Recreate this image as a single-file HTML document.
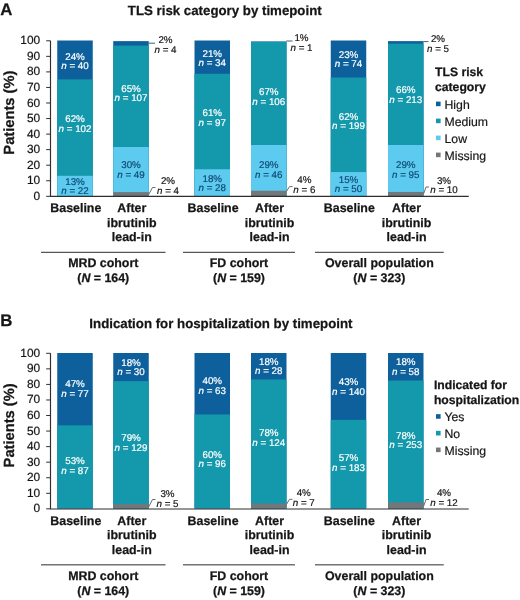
<!DOCTYPE html>
<html><head><meta charset="utf-8"><title>TLS risk category by timepoint</title>
<style>
html,body{margin:0;padding:0;background:#fff}
svg{display:block}
text{font-family:"Liberation Sans",Arial,sans-serif;fill:#161616;text-rendering:geometricPrecision}
.ltr{font-size:16.8px;font-weight:bold}
.ltr,.ttl,.ylab,.xl,.lt{stroke:#161616;stroke-width:0.25px}
.ttl{font-size:13.27px;font-weight:bold}
.ylab{font-size:14.7px;font-weight:bold}
.tick{font-size:11.9px}
.xl{font-size:12.4px;font-weight:bold}
.leg{font-size:12.25px}
.lt{font-size:12.2px;font-weight:bold}
.lab{font-size:9.8px}
.it{font-style:italic}
.tick,.leg,.lab{stroke:#161616;stroke-width:0.2px}
.lw{fill:#fff;stroke:#fff}
.ld{fill:#0f4b73;stroke:#0f4b73}
</style></head><body>
<svg width="520" height="600" viewBox="0 0 520 600">
<rect width="520" height="600" fill="#fff"/>
<text x="0.3" y="15.00" class="ltr">A</text>
<text x="224.75" y="14.50" class="ttl" text-anchor="middle">TLS risk category by timepoint</text>
<text transform="translate(14.2,112.60) rotate(-90)" class="ylab" text-anchor="middle">Patients (%)</text>
<rect x="57.25" y="40.50" width="35.5" height="155.50" fill="#0d609b"/>
<rect x="57.25" y="79.38" width="35.5" height="116.62" fill="#1498ab"/>
<rect x="57.25" y="175.78" width="35.5" height="20.22" fill="#5dcaf0"/>
<text x="75.00" y="184.50" class="lab ld" text-anchor="middle">13%</text>
<text x="75.00" y="194.10" class="lab ld" text-anchor="middle"><tspan class="it">n</tspan> = 22</text>
<text x="75.00" y="122.00" class="lab lw" text-anchor="middle">62%</text>
<text x="75.00" y="131.60" class="lab lw" text-anchor="middle"><tspan class="it">n</tspan> = 102</text>
<text x="75.00" y="59.50" class="lab lw" text-anchor="middle">24%</text>
<text x="75.00" y="69.10" class="lab lw" text-anchor="middle"><tspan class="it">n</tspan> = 40</text>
<rect x="113.25" y="41.12" width="35.5" height="154.88" fill="#0d609b"/>
<rect x="113.25" y="45.63" width="35.5" height="150.37" fill="#1498ab"/>
<rect x="113.25" y="147.02" width="35.5" height="48.98" fill="#5dcaf0"/>
<rect x="113.25" y="192.11" width="35.5" height="3.89" fill="#72777b"/>
<text x="131.00" y="168.30" class="lab ld" text-anchor="middle">30%</text>
<text x="131.00" y="177.90" class="lab ld" text-anchor="middle"><tspan class="it">n</tspan> = 49</text>
<text x="131.00" y="91.75" class="lab lw" text-anchor="middle">65%</text>
<text x="131.00" y="101.35" class="lab lw" text-anchor="middle"><tspan class="it">n</tspan> = 107</text>
<rect x="194.5" y="40.50" width="35.5" height="155.50" fill="#0d609b"/>
<rect x="194.5" y="73.78" width="35.5" height="122.22" fill="#1498ab"/>
<rect x="194.5" y="169.25" width="35.5" height="26.75" fill="#5dcaf0"/>
<text x="212.25" y="181.75" class="lab ld" text-anchor="middle">18%</text>
<text x="212.25" y="191.35" class="lab ld" text-anchor="middle"><tspan class="it">n</tspan> = 28</text>
<text x="212.25" y="116.25" class="lab lw" text-anchor="middle">61%</text>
<text x="212.25" y="125.85" class="lab lw" text-anchor="middle"><tspan class="it">n</tspan> = 97</text>
<text x="212.25" y="56.50" class="lab lw" text-anchor="middle">21%</text>
<text x="212.25" y="66.10" class="lab lw" text-anchor="middle"><tspan class="it">n</tspan> = 34</text>
<rect x="251.0" y="41.43" width="35.5" height="154.57" fill="#0d609b"/>
<rect x="251.0" y="41.90" width="35.5" height="154.10" fill="#1498ab"/>
<rect x="251.0" y="145.00" width="35.5" height="51.00" fill="#5dcaf0"/>
<rect x="251.0" y="190.71" width="35.5" height="5.29" fill="#72777b"/>
<text x="268.75" y="168.00" class="lab ld" text-anchor="middle">29%</text>
<text x="268.75" y="177.60" class="lab ld" text-anchor="middle"><tspan class="it">n</tspan> = 46</text>
<text x="268.75" y="95.00" class="lab lw" text-anchor="middle">67%</text>
<text x="268.75" y="104.60" class="lab lw" text-anchor="middle"><tspan class="it">n</tspan> = 106</text>
<rect x="330.75" y="40.50" width="35.5" height="155.50" fill="#0d609b"/>
<rect x="330.75" y="77.51" width="35.5" height="118.49" fill="#1498ab"/>
<rect x="330.75" y="172.05" width="35.5" height="23.95" fill="#5dcaf0"/>
<text x="348.50" y="182.50" class="lab ld" text-anchor="middle">15%</text>
<text x="348.50" y="192.10" class="lab ld" text-anchor="middle"><tspan class="it">n</tspan> = 50</text>
<text x="348.50" y="119.50" class="lab lw" text-anchor="middle">62%</text>
<text x="348.50" y="129.10" class="lab lw" text-anchor="middle"><tspan class="it">n</tspan> = 199</text>
<text x="348.50" y="57.50" class="lab lw" text-anchor="middle">23%</text>
<text x="348.50" y="67.10" class="lab lw" text-anchor="middle"><tspan class="it">n</tspan> = 74</text>
<rect x="388.0" y="41.12" width="35.5" height="154.88" fill="#0d609b"/>
<rect x="388.0" y="43.61" width="35.5" height="152.39" fill="#1498ab"/>
<rect x="388.0" y="145.00" width="35.5" height="51.00" fill="#5dcaf0"/>
<rect x="388.0" y="191.96" width="35.5" height="4.04" fill="#72777b"/>
<text x="405.75" y="168.00" class="lab ld" text-anchor="middle">29%</text>
<text x="405.75" y="177.60" class="lab ld" text-anchor="middle"><tspan class="it">n</tspan> = 95</text>
<text x="405.75" y="93.25" class="lab lw" text-anchor="middle">66%</text>
<text x="405.75" y="102.85" class="lab lw" text-anchor="middle"><tspan class="it">n</tspan> = 213</text>
<path d="M50.5 40.80V196.40H468.75" fill="none" stroke="#2e2e2e" stroke-width="1.15"/>
<path d="M46.2 196.30H50.5" stroke="#2e2e2e" stroke-width="1"/>
<text x="40.2" y="199.80" class="tick" text-anchor="end">0</text>
<path d="M46.2 180.75H50.5" stroke="#2e2e2e" stroke-width="1"/>
<text x="40.2" y="184.25" class="tick" text-anchor="end">10</text>
<path d="M46.2 165.20H50.5" stroke="#2e2e2e" stroke-width="1"/>
<text x="40.2" y="168.70" class="tick" text-anchor="end">20</text>
<path d="M46.2 149.65H50.5" stroke="#2e2e2e" stroke-width="1"/>
<text x="40.2" y="153.15" class="tick" text-anchor="end">30</text>
<path d="M46.2 134.10H50.5" stroke="#2e2e2e" stroke-width="1"/>
<text x="40.2" y="137.60" class="tick" text-anchor="end">40</text>
<path d="M46.2 118.55H50.5" stroke="#2e2e2e" stroke-width="1"/>
<text x="40.2" y="122.05" class="tick" text-anchor="end">50</text>
<path d="M46.2 103.00H50.5" stroke="#2e2e2e" stroke-width="1"/>
<text x="40.2" y="106.50" class="tick" text-anchor="end">60</text>
<path d="M46.2 87.45H50.5" stroke="#2e2e2e" stroke-width="1"/>
<text x="40.2" y="90.95" class="tick" text-anchor="end">70</text>
<path d="M46.2 71.90H50.5" stroke="#2e2e2e" stroke-width="1"/>
<text x="40.2" y="75.40" class="tick" text-anchor="end">80</text>
<path d="M46.2 56.35H50.5" stroke="#2e2e2e" stroke-width="1"/>
<text x="40.2" y="59.85" class="tick" text-anchor="end">90</text>
<path d="M46.2 40.80H50.5" stroke="#2e2e2e" stroke-width="1"/>
<text x="40.2" y="44.30" class="tick" text-anchor="end">100</text>
<text x="75.80" y="212.10" class="xl" text-anchor="middle">Baseline</text>
<text x="131.80" y="212.10" class="xl" text-anchor="middle">After</text>
<text x="131.80" y="226.70" class="xl" text-anchor="middle">ibrutinib</text>
<text x="131.80" y="241.30" class="xl" text-anchor="middle">lead-in</text>
<text x="213.05" y="212.10" class="xl" text-anchor="middle">Baseline</text>
<text x="269.55" y="212.10" class="xl" text-anchor="middle">After</text>
<text x="269.55" y="226.70" class="xl" text-anchor="middle">ibrutinib</text>
<text x="269.55" y="241.30" class="xl" text-anchor="middle">lead-in</text>
<text x="349.30" y="212.10" class="xl" text-anchor="middle">Baseline</text>
<text x="406.55" y="212.10" class="xl" text-anchor="middle">After</text>
<text x="406.55" y="226.70" class="xl" text-anchor="middle">ibrutinib</text>
<text x="406.55" y="241.30" class="xl" text-anchor="middle">lead-in</text>
<path d="M41 252.30H165.5" stroke="#2e2e2e" stroke-width="1"/>
<text x="103.25" y="267.40" class="xl" text-anchor="middle">MRD cohort</text>
<text x="103.25" y="282.10" class="xl" text-anchor="middle">(<tspan class="it">N</tspan> = 164)</text>
<path d="M183 252.30H295" stroke="#2e2e2e" stroke-width="1"/>
<text x="239.00" y="267.40" class="xl" text-anchor="middle">FD cohort</text>
<text x="239.00" y="282.10" class="xl" text-anchor="middle">(<tspan class="it">N</tspan> = 159)</text>
<path d="M315 252.30H443.75" stroke="#2e2e2e" stroke-width="1"/>
<text x="379.38" y="267.40" class="xl" text-anchor="middle">Overall population</text>
<text x="379.38" y="282.10" class="xl" text-anchor="middle">(<tspan class="it">N</tspan> = 323)</text>
<path d="M148.7 43.2H155" fill="none" stroke="#3d5f7d" stroke-width="1"/>
<text x="165.5" y="43.2" class="lab" text-anchor="middle">2%</text>
<text x="165.5" y="52.7" class="lab" text-anchor="middle"><tspan class="it">n</tspan> = 4</text>
<path d="M286.3 41H292.5" fill="none" stroke="#3d5f7d" stroke-width="1"/>
<text x="301.5" y="40.8" class="lab" text-anchor="middle">1%</text>
<text x="301.5" y="50.7" class="lab" text-anchor="middle"><tspan class="it">n</tspan> = 1</text>
<path d="M423.3 41.6H428.5" fill="none" stroke="#3d5f7d" stroke-width="1"/>
<text x="438" y="42.1" class="lab" text-anchor="middle">2%</text>
<text x="438" y="51.6" class="lab" text-anchor="middle"><tspan class="it">n</tspan> = 5</text>
<path d="M148.75 194.5L152.5 187.5H155.5" fill="none" stroke="#6a6a6a" stroke-width="1"/>
<text x="168" y="184" class="lab" text-anchor="middle">2%</text>
<text x="168" y="194" class="lab" text-anchor="middle"><tspan class="it">n</tspan> = 4</text>
<path d="M286.4 191.5L289.5 186.6H292.5" fill="none" stroke="#6a6a6a" stroke-width="1"/>
<text x="304.4" y="183" class="lab" text-anchor="middle">4%</text>
<text x="304.4" y="193" class="lab" text-anchor="middle"><tspan class="it">n</tspan> = 6</text>
<path d="M423.5 194L426 187H429" fill="none" stroke="#6a6a6a" stroke-width="1"/>
<text x="444" y="183.75" class="lab" text-anchor="middle">3%</text>
<text x="444" y="193" class="lab" text-anchor="middle"><tspan class="it">n</tspan> = 10</text>
<text x="435" y="76.00" class="lt">TLS risk</text>
<text x="435" y="91.20" class="lt">category</text>
<rect x="436" y="101.60" width="4.6" height="4.6" fill="#0d609b"/>
<text x="444.5" y="108.60" class="leg">High</text>
<rect x="436" y="118.60" width="4.6" height="4.6" fill="#1498ab"/>
<text x="444.5" y="125.60" class="leg">Medium</text>
<rect x="436" y="135.60" width="4.6" height="4.6" fill="#5dcaf0"/>
<text x="444.5" y="142.60" class="leg">Low</text>
<rect x="436" y="152.60" width="4.6" height="4.6" fill="#72777b"/>
<text x="444.5" y="159.60" class="leg">Missing</text>
<text x="0.3" y="326.00" class="ltr">B</text>
<text x="220.9" y="327.60" class="ttl" text-anchor="middle">Indication for hospitalization by timepoint</text>
<text transform="translate(14.2,425.35) rotate(-90)" class="ylab" text-anchor="middle">Patients (%)</text>
<rect x="57.25" y="353.00" width="35.5" height="155.55" fill="#0d609b"/>
<rect x="57.25" y="425.33" width="35.5" height="83.22" fill="#1498ab"/>
<text x="75.00" y="464.25" class="lab lw" text-anchor="middle">53%</text>
<text x="75.00" y="473.85" class="lab lw" text-anchor="middle"><tspan class="it">n</tspan> = 87</text>
<text x="75.00" y="387.25" class="lab lw" text-anchor="middle">47%</text>
<text x="75.00" y="396.85" class="lab lw" text-anchor="middle"><tspan class="it">n</tspan> = 77</text>
<rect x="113.25" y="353.00" width="35.5" height="155.55" fill="#0d609b"/>
<rect x="113.25" y="381.15" width="35.5" height="127.40" fill="#1498ab"/>
<rect x="113.25" y="504.04" width="35.5" height="4.51" fill="#72777b"/>
<text x="131.00" y="441.25" class="lab lw" text-anchor="middle">79%</text>
<text x="131.00" y="450.85" class="lab lw" text-anchor="middle"><tspan class="it">n</tspan> = 129</text>
<text x="131.00" y="365.50" class="lab lw" text-anchor="middle">18%</text>
<text x="131.00" y="375.10" class="lab lw" text-anchor="middle"><tspan class="it">n</tspan> = 30</text>
<rect x="194.5" y="353.00" width="35.5" height="155.55" fill="#0d609b"/>
<rect x="194.5" y="414.44" width="35.5" height="94.11" fill="#1498ab"/>
<text x="212.25" y="457.50" class="lab lw" text-anchor="middle">60%</text>
<text x="212.25" y="467.10" class="lab lw" text-anchor="middle"><tspan class="it">n</tspan> = 96</text>
<text x="212.25" y="384.25" class="lab lw" text-anchor="middle">40%</text>
<text x="212.25" y="393.85" class="lab lw" text-anchor="middle"><tspan class="it">n</tspan> = 63</text>
<rect x="251.0" y="353.00" width="35.5" height="155.55" fill="#0d609b"/>
<rect x="251.0" y="379.44" width="35.5" height="129.11" fill="#1498ab"/>
<rect x="251.0" y="503.57" width="35.5" height="4.98" fill="#72777b"/>
<text x="268.75" y="436.00" class="lab lw" text-anchor="middle">78%</text>
<text x="268.75" y="445.60" class="lab lw" text-anchor="middle"><tspan class="it">n</tspan> = 124</text>
<text x="268.75" y="364.50" class="lab lw" text-anchor="middle">18%</text>
<text x="268.75" y="374.10" class="lab lw" text-anchor="middle"><tspan class="it">n</tspan> = 28</text>
<rect x="330.75" y="353.00" width="35.5" height="155.55" fill="#0d609b"/>
<rect x="330.75" y="419.89" width="35.5" height="88.66" fill="#1498ab"/>
<text x="348.50" y="461.25" class="lab lw" text-anchor="middle">57%</text>
<text x="348.50" y="470.85" class="lab lw" text-anchor="middle"><tspan class="it">n</tspan> = 183</text>
<text x="348.50" y="385.00" class="lab lw" text-anchor="middle">43%</text>
<text x="348.50" y="394.60" class="lab lw" text-anchor="middle"><tspan class="it">n</tspan> = 140</text>
<rect x="388.0" y="353.00" width="35.5" height="155.55" fill="#0d609b"/>
<rect x="388.0" y="380.53" width="35.5" height="128.02" fill="#1498ab"/>
<rect x="388.0" y="502.33" width="35.5" height="6.22" fill="#72777b"/>
<text x="405.75" y="438.75" class="lab lw" text-anchor="middle">78%</text>
<text x="405.75" y="448.35" class="lab lw" text-anchor="middle"><tspan class="it">n</tspan> = 253</text>
<text x="405.75" y="365.25" class="lab lw" text-anchor="middle">18%</text>
<text x="405.75" y="374.85" class="lab lw" text-anchor="middle"><tspan class="it">n</tspan> = 58</text>
<path d="M50.5 353.30V508.95H468.75" fill="none" stroke="#2e2e2e" stroke-width="1.15"/>
<path d="M46.2 508.85H50.5" stroke="#2e2e2e" stroke-width="1"/>
<text x="40.2" y="512.35" class="tick" text-anchor="end">0</text>
<path d="M46.2 493.30H50.5" stroke="#2e2e2e" stroke-width="1"/>
<text x="40.2" y="496.80" class="tick" text-anchor="end">10</text>
<path d="M46.2 477.74H50.5" stroke="#2e2e2e" stroke-width="1"/>
<text x="40.2" y="481.24" class="tick" text-anchor="end">20</text>
<path d="M46.2 462.19H50.5" stroke="#2e2e2e" stroke-width="1"/>
<text x="40.2" y="465.69" class="tick" text-anchor="end">30</text>
<path d="M46.2 446.63H50.5" stroke="#2e2e2e" stroke-width="1"/>
<text x="40.2" y="450.13" class="tick" text-anchor="end">40</text>
<path d="M46.2 431.07H50.5" stroke="#2e2e2e" stroke-width="1"/>
<text x="40.2" y="434.57" class="tick" text-anchor="end">50</text>
<path d="M46.2 415.52H50.5" stroke="#2e2e2e" stroke-width="1"/>
<text x="40.2" y="419.02" class="tick" text-anchor="end">60</text>
<path d="M46.2 399.97H50.5" stroke="#2e2e2e" stroke-width="1"/>
<text x="40.2" y="403.47" class="tick" text-anchor="end">70</text>
<path d="M46.2 384.41H50.5" stroke="#2e2e2e" stroke-width="1"/>
<text x="40.2" y="387.91" class="tick" text-anchor="end">80</text>
<path d="M46.2 368.86H50.5" stroke="#2e2e2e" stroke-width="1"/>
<text x="40.2" y="372.36" class="tick" text-anchor="end">90</text>
<path d="M46.2 353.30H50.5" stroke="#2e2e2e" stroke-width="1"/>
<text x="40.2" y="356.80" class="tick" text-anchor="end">100</text>
<text x="75.80" y="524.65" class="xl" text-anchor="middle">Baseline</text>
<text x="131.80" y="524.65" class="xl" text-anchor="middle">After</text>
<text x="131.80" y="539.25" class="xl" text-anchor="middle">ibrutinib</text>
<text x="131.80" y="553.85" class="xl" text-anchor="middle">lead-in</text>
<text x="213.05" y="524.65" class="xl" text-anchor="middle">Baseline</text>
<text x="269.55" y="524.65" class="xl" text-anchor="middle">After</text>
<text x="269.55" y="539.25" class="xl" text-anchor="middle">ibrutinib</text>
<text x="269.55" y="553.85" class="xl" text-anchor="middle">lead-in</text>
<text x="349.30" y="524.65" class="xl" text-anchor="middle">Baseline</text>
<text x="406.55" y="524.65" class="xl" text-anchor="middle">After</text>
<text x="406.55" y="539.25" class="xl" text-anchor="middle">ibrutinib</text>
<text x="406.55" y="553.85" class="xl" text-anchor="middle">lead-in</text>
<path d="M41 564.85H165.5" stroke="#2e2e2e" stroke-width="1"/>
<text x="103.25" y="580.45" class="xl" text-anchor="middle">MRD cohort</text>
<text x="103.25" y="595.15" class="xl" text-anchor="middle">(<tspan class="it">N</tspan> = 164)</text>
<path d="M183 564.85H295" stroke="#2e2e2e" stroke-width="1"/>
<text x="239.00" y="580.45" class="xl" text-anchor="middle">FD cohort</text>
<text x="239.00" y="595.15" class="xl" text-anchor="middle">(<tspan class="it">N</tspan> = 159)</text>
<path d="M315 564.85H443.75" stroke="#2e2e2e" stroke-width="1"/>
<text x="379.38" y="580.45" class="xl" text-anchor="middle">Overall population</text>
<text x="379.38" y="595.15" class="xl" text-anchor="middle">(<tspan class="it">N</tspan> = 323)</text>
<path d="M148.75 506.75L152.5 499.5H155.5" fill="none" stroke="#6a6a6a" stroke-width="1"/>
<text x="167.5" y="496.75" class="lab" text-anchor="middle">3%</text>
<text x="167.5" y="506.5" class="lab" text-anchor="middle"><tspan class="it">n</tspan> = 5</text>
<path d="M286.4 504.5L289.5 499.3H292.5" fill="none" stroke="#6a6a6a" stroke-width="1"/>
<text x="303.75" y="495.5" class="lab" text-anchor="middle">4%</text>
<text x="303.75" y="505.5" class="lab" text-anchor="middle"><tspan class="it">n</tspan> = 7</text>
<path d="M423.5 506.5L426 499.5H429" fill="none" stroke="#6a6a6a" stroke-width="1"/>
<text x="444" y="496" class="lab" text-anchor="middle">4%</text>
<text x="444" y="505.75" class="lab" text-anchor="middle"><tspan class="it">n</tspan> = 12</text>
<text x="433.9" y="388.75" class="lt">Indicated for</text>
<text x="433.9" y="403.95" class="lt">hospitalization</text>
<rect x="436" y="414.15" width="4.6" height="4.6" fill="#0d609b"/>
<text x="444.5" y="421.15" class="leg">Yes</text>
<rect x="436" y="430.85" width="4.6" height="4.6" fill="#1498ab"/>
<text x="444.5" y="437.85" class="leg">No</text>
<rect x="436" y="447.55" width="4.6" height="4.6" fill="#72777b"/>
<text x="444.5" y="454.55" class="leg">Missing</text>
</svg>
</body></html>
